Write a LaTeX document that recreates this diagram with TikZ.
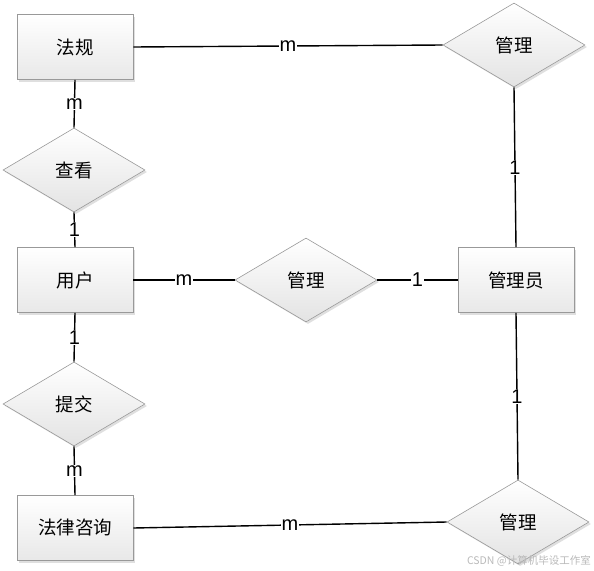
\documentclass[tikz,border=0pt]{standalone}
\usepackage{fontspec}
\setmainfont{Noto Sans CJK SC}
\newfontfamily\latinfont{Liberation Sans}
\usetikzlibrary{shapes.geometric,shadows}

\begin{document}
\begin{tikzpicture}[x=1pt,y=-1pt,
	entity/.style={draw=gray!80,line width=0.6pt,rectangle,minimum width=116pt,minimum height=65pt,
		top color=white,bottom color=gray!18,drop shadow={opacity=0.25,shadow xshift=2pt,shadow yshift=-2pt},font=\fontsize{18.5}{20}\selectfont},
	relation/.style={draw=gray!80,line width=0.6pt,diamond,minimum width=142pt,minimum height=84pt,inner sep=0pt,
		top color=white,bottom color=gray!22,drop shadow={opacity=0.25,shadow xshift=2pt,shadow yshift=-2pt},font=\fontsize{18.5}{20}\selectfont},
	link/.style={line width=1.4pt},
	card/.style={fill=white,inner sep=0.5pt,font=\latinfont\fontsize{20}{22}\selectfont}]
	\useasboundingbox (0,0) rectangle (594,570);
	% entities
	\node[entity] (fagui) at (75,47) {法规};
	\node[entity] (yonghu) at (75,280) {用户};
	\node[entity] (zixun) at (75,528) {法律咨询};
	\node[entity] (admin) at (516,280) {管理员};
	% relationships
	\node[relation] (chakan) at (74,170) {查看};
	\node[relation] (tijiao) at (74,404) {提交};
	\node[relation] (guanli-a) at (514,45) {管理};
	\node[relation] (guanli-b) at (306,280) {管理};
	\node[relation] (guanli-c) at (518,522) {管理};
	% connectors
	\path[link]
	(fagui.east) edge node[card] {m} (guanli-a.west)
	(guanli-a.south) edge node[card] {1} (admin.north)
	(fagui.south) edge node[card] {m} (chakan.north)
	(chakan.south) edge node[card] {1} (yonghu.north)
	(yonghu.east) edge node[card] {m} (guanli-b.west)
	(guanli-b.east) edge node[card] {1} (admin.west)
	(yonghu.south) edge node[card] {1} (tijiao.north)
	(tijiao.south) edge node[card] {m} (zixun.north)
	(admin.south) edge node[card] {1} (guanli-c.north)
	(zixun.east) edge node[card] {m} (guanli-c.west);
	\node[text=gray!55,font=\fontsize{10.5}{12}\selectfont,anchor=south east,inner sep=1pt] (mark) at (592,568) {CSDN @计算机毕设工作室};
\end{tikzpicture}
\end{document}
